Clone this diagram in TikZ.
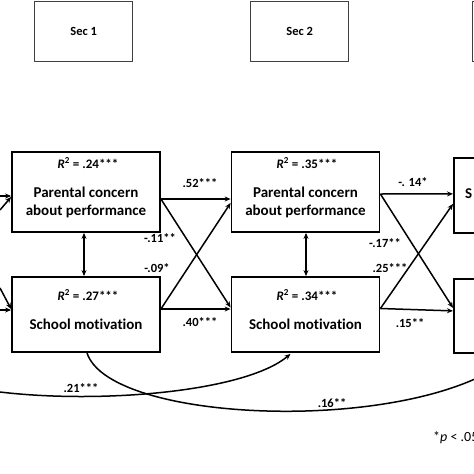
\documentclass[tikz,border=0pt]{standalone}
\usepackage{fontspec}
\setmainfont{Carlito}[Ligatures=NoCommon]
\usetikzlibrary{arrows.meta, calc, positioning}

\begin{document}
\begin{tikzpicture}[
    x=1pt, y=-1pt,
    font=\rmfamily,
    varbox/.style={
      draw=black,
      line width=1.8pt,
      minimum width=148pt,
      minimum height=#1,
      inner sep=0pt,
    },
    secbox/.style={
      draw=black!75,
      line width=1.4pt,
      minimum width=98pt,
      minimum height=60pt,
      font=\bfseries\fontsize{12.5}{14}\selectfont,
    },
    rsq/.style={
      font=\bfseries\fontsize{13}{15}\selectfont,
      inner sep=0pt,
    },
    varname/.style={
      font=\bfseries\fontsize{15}{18}\selectfont,
      align=center,
      inner sep=0pt,
    },
    coef/.style={
      draw=black,
      line width=1.5pt,
      -{Stealth[length=6pt,width=5pt]},
    },
    est/.style={
      font=\bfseries\fontsize{12.5}{14}\selectfont,
      inner sep=0pt,
    },
  ]

  \useasboundingbox (0,0) rectangle (474,474);
  \clip (0,0) rectangle (474,474);

  % Wave headers
  \node[secbox, anchor=north west] (sec1) at (34,1) {Sec 1};
  \node[secbox, anchor=north west] (sec2) at (250,1) {Sec 2};
  \node[secbox, anchor=north west] (sec3) at (472,1) {};

  % Variable boxes
  \node[varbox=80pt] (pc1) at (86,192) {};
  \node[varbox=75pt] (sm1) at (86,314.5) {};
  \node[varbox=80pt] (pc2) at (305.5,192) {};
  \node[varbox=75pt] (sm2) at (305.5,314.5) {};
  \node[varbox=75pt, anchor=north west] (pc3) at (453,157) {};
  \node[varbox=74pt, anchor=north west] (sm3) at (453,278) {};

  % Box texts
  \node[rsq] (pc1r) at (88,163) {\textit{R}\textsuperscript{2} = .24***};
  \node[varname] (pc1t) at (86,202) {Parental concern\\about performance};
  \node[rsq] (sm1r) at (88,295) {\textit{R}\textsuperscript{2} = .27***};
  \node[varname] (sm1t) at (86,324) {School motivation};
  \node[rsq] (pc2r) at (307,163) {\textit{R}\textsuperscript{2} = .35***};
  \node[varname] (pc2t) at (305.5,202) {Parental concern\\about performance};
  \node[rsq] (sm2r) at (307,295) {\textit{R}\textsuperscript{2} = .34***};
  \node[varname] (sm2t) at (305.5,324) {School motivation};
  \node[varname, anchor=west] (pc3t) at (465,194) {S};

  % Incoming paths from the left
  \coordinate (inA) at (0,196);
  \coordinate (inB) at (0,210);
  \coordinate (inC) at (0,310);
  \coordinate (inD) at (0,288);
  \draw[coef] (inA) -- ($(pc1.west)+(0,4)$);
  \draw[coef] (inB) -- ($(pc1.west)+(0,5)$);
  \draw[coef] (inC) -- ($(sm1.west)+(0,-4.5)$);
  \draw[coef] (inD) -- ($(sm1.west)+(0,-5.5)$);

  % Sec 1 -> Sec 2
  \draw[coef] ($(pc1.east)+(0,7)$) -- ($(pc2.west)+(0,7)$);
  \draw[coef] ($(pc1.east)+(0,7)$) -- ($(sm2.west)+(0,-7)$);
  \draw[coef] ($(sm1.east)+(0,-5.5)$) -- ($(pc2.west)+(0,11)$);
  \draw[coef] ($(sm1.east)+(0,-5.5)$) -- ($(sm2.west)+(0,-5.5)$);

  % Sec 2 -> Sec 3
  \draw[coef] ($(pc2.east)+(0,2)$) -- ($(pc3.west)+(0,-1.5)$);
  \draw[coef] ($(pc2.east)+(0,2)$) -- ($(sm3.west)+(0,-8)$);
  \draw[coef] ($(sm2.east)+(0,-6)$) -- ($(pc3.west)+(0,8.5)$);
  \draw[coef] ($(sm2.east)+(0,-6)$) -- ($(sm3.west)+(0,-5)$);

  % Within-wave correlations
  \draw[coef, {Stealth[length=6pt,width=5pt]}-{Stealth[length=6pt,width=5pt]}]
    ($(pc1.south)+(-2,0)$) -- ($(sm1.north)+(-2,0)$);
  \draw[coef, {Stealth[length=6pt,width=5pt]}-{Stealth[length=6pt,width=5pt]}]
    ($(pc2.south)+(0.5,0)$) -- ($(sm2.north)+(0.5,0)$);

  % Long-range paths
  \coordinate (inE) at (0,392);
  \coordinate (outF) at (515,354);
  \draw[coef] (inE) .. controls (100,404) and (245,392) .. ($(sm2.south)+(-15,1)$);
  \draw[coef] ($(sm1.south)+(1,0)$) .. controls (110,425) and (420,435) .. (outF);

  % Estimates
  \node[est] (e1) at (200,183) {.52***};
  \node[est] (e2) at (160,238) {-.11**};
  \node[est] (e3) at (157,268) {-.09*};
  \node[est] (e4) at (200,322) {.40***};
  \node[est] (e5) at (413,182) {-. 14*};
  \node[est] (e6) at (385,243) {-.17**};
  \node[est] (e7) at (390,268) {.25***};
  \node[est] (e8) at (410,323) {.15**};
  \node[est] (e9) at (81,388) {.21***};
  \node[est] (e10) at (332,403) {.16**};

  % Significance note
  \node[anchor=west, font=\fontsize{14}{16}\selectfont, inner sep=0pt] (note) at (433,438) {*\textit{p} < .05};

\end{tikzpicture}
\end{document}
